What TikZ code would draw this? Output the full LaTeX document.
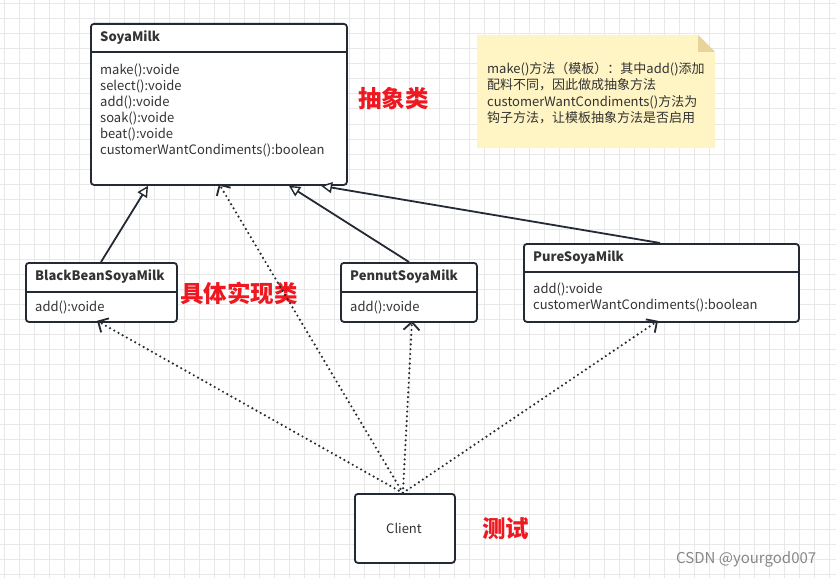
\documentclass[tikz,border=0pt]{standalone}
\usepackage{fontspec}
\setmainfont{Noto Sans CJK SC}
\usetikzlibrary{arrows.meta}
\definecolor{boxline}{RGB}{35,42,51}
\definecolor{txt}{RGB}{51,51,51}
\definecolor{lblred}{RGB}{240,24,32}
\definecolor{notefill}{RGB}{255,244,195}
\definecolor{notefold}{RGB}{230,212,154}
\definecolor{gridc}{RGB}{232,232,232}
\definecolor{wmc}{RGB}{135,135,135}
\tikzset{
  umlbox/.style={draw=boxline, line width=1.8pt, rounded corners=3pt, fill=white, anchor=north west, inner sep=0pt},
  divider/.style={draw=boxline, line width=1.8pt},
  ttl/.style={anchor=west, inner sep=0pt, text=txt, font=\fontsize{13}{15}\selectfont\bfseries},
  mth/.style={anchor=north west, inner sep=0pt, text=txt, align=left, font=\fontsize{13}{16}\selectfont},
  redlbl/.style={inner sep=0pt, text=lblred, font=\fontsize{23.5}{27}\selectfont\bfseries},
  inherit/.style={draw=boxline, line width=1.8pt, -{Triangle[open, length=11pt, width=11pt, fill=white, line width=1.4pt]}},
  depend/.style={draw=boxline, line width=2.4pt, line cap=round, dash pattern=on 0pt off 4.8pt, -{Straight Barb[length=8pt, width=16pt, line width=1.8pt, line cap=butt]}},
}
\begin{document}
\begin{tikzpicture}[x=1pt, y=-1pt]
\useasboundingbox (0,0) rectangle (836,578);
\fill[white] (0,0) rectangle (836,578);
\foreach \x in {4,19,...,835} \draw[gridc, line width=1pt] (\x,0) -- (\x,578);
\foreach \y in {4,19,...,577} \draw[gridc, line width=1pt] (0,\y) -- (836,\y);

% note
\fill[notefill] (477,35) -- (698,35) -- (715,52) -- (715,148) -- (477,148) -- cycle;
\fill[notefold] (698,35) -- (698,52) -- (715,52) -- cycle;
\node[anchor=north west, inner sep=0pt, text=txt, align=left, font=\fontsize{13}{16.5}\selectfont] (note) at (487,62)
 {make()方法（模板）：其中add()添加\\配料不同，因此做成抽象方法\\customerWantCondiments()方法为\\钩子方法，让模板抽象方法是否启用};

% SoyaMilk
\node[umlbox, minimum width=256pt, minimum height=161pt] (soya) at (90,23) {};
\draw[divider] (90,52) -- (346,52);
\node[ttl] (soyat) at (100,38) {SoyaMilk};
\node[mth] (soyam) at (100,64) {make():voide\\select():voide\\add():voide\\soak():voide\\beat():voide\\customerWantCondiments():boolean};

% BlackBean
\node[umlbox, minimum width=151pt, minimum height=59pt] (bb) at (25,262) {};
\draw[divider] (25,292) -- (176,292);
\node[ttl] (bbt) at (35,277) {BlackBeanSoyaMilk};
\node[mth] (bbm) at (35,301) {add():voide};

% Pennut
\node[umlbox, minimum width=136pt, minimum height=59pt] (pn) at (340,262) {};
\draw[divider] (340,292) -- (476,292);
\node[ttl] (pnt) at (350,277) {PennutSoyaMilk};
\node[mth] (pnm) at (350,301) {add():voide};

% Pure
\node[umlbox, minimum width=275pt, minimum height=78pt] (pu) at (523,243) {};
\draw[divider] (523,272) -- (798,272);
\node[ttl] (put) at (533,258) {PureSoyaMilk};
\node[mth] (pum) at (533,283) {add():voide\\customerWantCondiments():boolean};

% Client
\node[umlbox, minimum width=100pt, minimum height=69pt] (cl) at (354,493) {};
\node[text=txt, inner sep=0pt, font=\fontsize{13}{15}\selectfont] (clt) at (404,528) {Client};

% red labels
\node[redlbl, anchor=west] (l1) at (358,99) {抽象类};
\node[redlbl, anchor=west] (l2) at (180,293) {具体实现类};
\node[redlbl, anchor=west] (l3) at (482,529) {测试};

% inheritance
\draw[inherit] ([xshift=76pt]bb.north west) -- ([xshift=58pt]soya.south west);
\draw[inherit] ([xshift=69pt]pn.north west) -- ([xshift=199pt]soya.south west);
\draw[inherit] ([xshift=137pt]pu.north west) -- ([xshift=231pt]soya.south west);

% dependencies
\draw[depend] ([xshift=-2pt]cl.north) -- ([xshift=129pt, yshift=2pt]soya.south west);
\draw[depend] ([xshift=-2pt]cl.north) -- ([xshift=72pt, yshift=2pt]bb.south west);
\draw[depend] ([xshift=-2pt]cl.north) -- ([xshift=72pt, yshift=2pt]pn.south west);
\draw[depend] ([xshift=-2pt]cl.north) -- ([xshift=135pt, yshift=2pt]pu.south west);

\node[anchor=west, inner sep=0pt, text=wmc, font=\fontsize{15}{17}\selectfont] (wm) at (676,559) {CSDN @yourgod007};
\end{tikzpicture}
\end{document}
